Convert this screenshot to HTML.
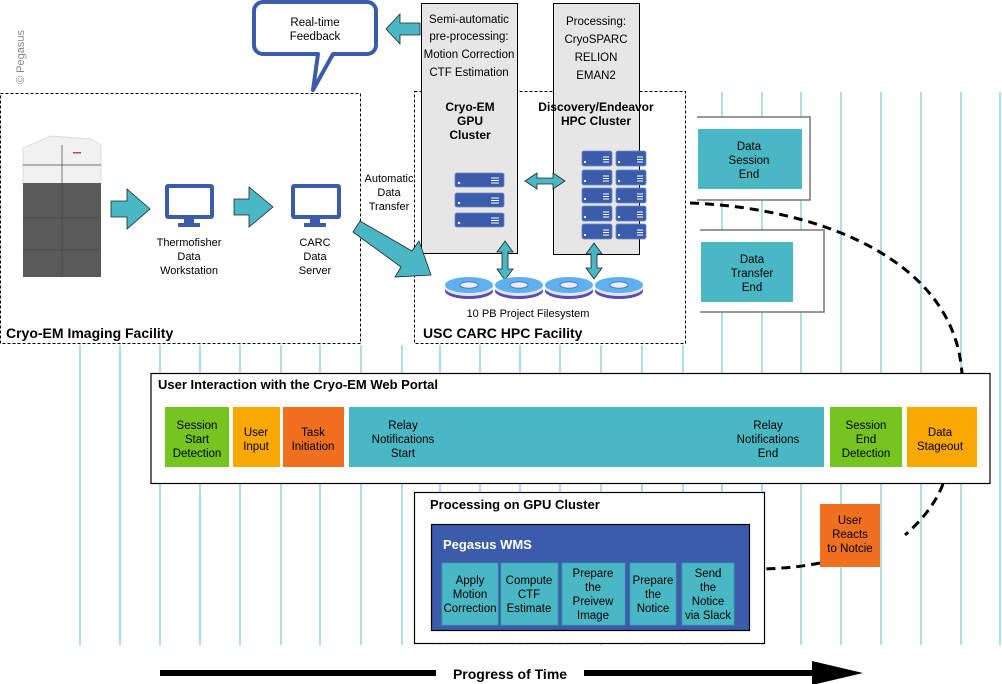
<!DOCTYPE html>
<html><head><meta charset="utf-8"><style>
html,body{margin:0;padding:0;background:#fff}
svg{display:block;font-family:"Liberation Sans",sans-serif}
</style></head><body>
<svg width="1002" height="684" viewBox="0 0 1002 684" xmlns="http://www.w3.org/2000/svg">
<defs>
<g id="srv"><rect x="0" y="0" width="49" height="14" rx="2" fill="#3a5cab" stroke="#6a86c4" stroke-width="0.8"/><circle cx="4" cy="10" r="1.2" fill="#fff"/><path d="M36 5h8M36 7.5h8M36 10h8" stroke="#fff" stroke-width="0.9"/></g>
<g id="srv2"><rect x="0" y="0" width="30" height="15" rx="2" fill="#3a5cab" stroke="#6a86c4" stroke-width="0.8"/><circle cx="3" cy="11" r="1.1" fill="#fff"/><path d="M21 6h6M21 8.5h6M21 11h6" stroke="#fff" stroke-width="0.9"/></g>
<g id="disk"><ellipse cx="0" cy="6" rx="24" ry="8" fill="#5b4bb8"/><ellipse cx="0" cy="3" rx="24" ry="8" fill="#dfe6f7"/><ellipse cx="0" cy="0" rx="24" ry="8" fill="#5fb0ee"/><ellipse cx="0" cy="0" rx="9" ry="3.3" fill="#e8eefa" stroke="#5b6ac0"/></g>
</defs>

<g stroke="#5bc0cc" stroke-width="1">
<path d="M80 345V645M120 345V645M160 345V645M200 345V645M240 345V645M281 345V645M320 345V645M361 345V645M402 345V645M440 345V645M480 345V645M520 345V645M560 345V645M601 345V645M642 345V645M683 345V645"/>
<path d="M722 92V645M762 92V645M801 92V645M841 92V645M881 92V645M921 92V645M961 92V645M1000 92V645"/>
</g>

<text transform="translate(24,84) rotate(-90)" font-size="11" fill="#888">© Pegasus</text>

<rect x="0.5" y="93.5" width="360" height="250" fill="#fff" stroke="#000" stroke-dasharray="3,2"/>
<rect x="414.5" y="91.5" width="271" height="252" fill="#fff" stroke="#000" stroke-dasharray="3,2"/>
<text x="6" y="338" font-size="14" font-weight="bold">Cryo-EM Imaging Facility</text>
<text x="423" y="338" font-size="14" font-weight="bold">USC CARC HPC Facility</text>

<path d="M263 2h104a9 9 0 0 1 9 9v34a9 9 0 0 1-9 9H333L313 90L318 54H263a9 9 0 0 1-9-9V11a9 9 0 0 1 9-9z" fill="#fff" stroke="#3a5cab" stroke-width="4" stroke-linejoin="round"/>
<text x="315" y="26" font-size="11.5" text-anchor="middle">Real-time</text>
<text x="315" y="40" font-size="11.5" text-anchor="middle">Feedback</text>
<path d="M420 23h-20v-9l-14 15 14 15v-9h20z" fill="#4ab8c4" stroke="#222" stroke-width="0.8"/>

<rect x="421.5" y="3.5" width="96" height="250" fill="#e6e6e6" stroke="#000"/>
<rect x="553.5" y="3.5" width="86" height="251" fill="#e6e6e6" stroke="#000"/>
<g font-size="11.5" text-anchor="middle">
<text x="469" y="23">Semi-automatic</text><text x="469" y="40">pre-processing:</text><text x="469" y="58">Motion Correction</text><text x="469" y="76">CTF Estimation</text>
<text x="596" y="25">Processing:</text><text x="596" y="43">CryoSPARC</text><text x="596" y="61">RELION</text><text x="596" y="79">EMAN2</text>
</g>
<g font-size="12" font-weight="bold" text-anchor="middle">
<text x="470" y="111">Cryo-EM</text><text x="470" y="125">GPU</text><text x="470" y="139">Cluster</text>
<text x="596" y="111">Discovery/Endeavor</text><text x="596" y="125">HPC Cluster</text>
</g>
<use href="#srv" x="455" y="173"/><use href="#srv" x="455" y="193"/><use href="#srv" x="455" y="213"/>
<g>
<use href="#srv2" x="582" y="151"/><use href="#srv2" x="616" y="151"/>
<use href="#srv2" x="582" y="170"/><use href="#srv2" x="616" y="170"/>
<use href="#srv2" x="582" y="188"/><use href="#srv2" x="616" y="188"/>
<use href="#srv2" x="582" y="206"/><use href="#srv2" x="616" y="206"/>
<use href="#srv2" x="582" y="224"/><use href="#srv2" x="616" y="224"/>
</g>
<path d="M525 181l12-8v5h16v-5l12 8-12 8v-5h-16v5z" fill="#4ab8c4" stroke="#222" stroke-width="0.8"/>
<path d="M505 241l8 11h-5v17h5l-8 11-8-11h5v-17h-5z" fill="#4ab8c4" stroke="#222" stroke-width="0.8"/>
<path d="M594 243l8 11h-5v14h5l-8 11-8-11h5v-14h-5z" fill="#4ab8c4" stroke="#222" stroke-width="0.8"/>
<use href="#disk" x="469" y="285"/><use href="#disk" x="519" y="285"/><use href="#disk" x="569" y="285"/><use href="#disk" x="619" y="285"/>
<text x="528" y="317" font-size="11" text-anchor="middle">10 PB Project Filesystem</text>

<path d="M23 148l28-12 40 3 10 6v40H23z" fill="#f1f1f1" stroke="#ddd"/>
<rect x="23" y="183" width="78" height="94" fill="#5a5a5a"/>
<path d="M62 145v132M23 165h78M23 218h78M23 250h78" stroke="#444" stroke-width="0.7"/>
<rect x="73" y="152" width="8" height="1.5" fill="#c44"/>

<path d="M111 201h16v-12l23 20-23 20v-12h-16z" fill="#4ab8c4" stroke="#222" stroke-width="0.8"/>
<path d="M234 199h15v-12l24 20-24 20v-12h-15z" fill="#4ab8c4" stroke="#222" stroke-width="0.8"/>
<g fill="none" stroke="#3a5cab" stroke-width="4"><rect x="167" y="186" width="45" height="31" rx="1"/><rect x="293" y="186" width="46" height="31" rx="1"/></g>
<g fill="#3a5cab"><rect x="184" y="218" width="10" height="5"/><rect x="178" y="223" width="22" height="4"/><rect x="310" y="218" width="10" height="5"/><rect x="304" y="223" width="22" height="4"/></g>
<g font-size="11" text-anchor="middle">
<text x="189" y="246">Thermofisher</text><text x="189" y="260">Data</text><text x="189" y="274">Workstation</text>
<text x="315" y="246">CARC</text><text x="315" y="260">Data</text><text x="315" y="274">Server</text>
<text x="389" y="182">Automatic</text><text x="389" y="196">Data</text><text x="389" y="210">Transfer</text>
</g>
<path d="M353 232l7-11 52 30 7-10 12 34-36 2 6-10z" fill="#4ab8c4" stroke="#222" stroke-width="0.8"/>

<path d="M697 117h113v83h-113" fill="#fff" stroke="#777" stroke-width="1.5"/>
<rect x="698" y="129" width="104" height="60" fill="#4ab8c4"/>
<path d="M700 230h124v82h-124" fill="#fff" stroke="#777" stroke-width="1.5"/>
<rect x="701" y="242" width="92" height="60" fill="#4ab8c4"/>
<g font-size="11.5" text-anchor="middle">
<text x="749" y="150">Data</text><text x="749" y="164">Session</text><text x="749" y="178">End</text>
<text x="752" y="263">Data</text><text x="752" y="277">Transfer</text><text x="752" y="291">End</text>
</g>

<path d="M690 203C820 208 955 260 962 374" fill="none" stroke="#000" stroke-width="3" stroke-dasharray="9,6"/>
<path d="M943 484C935 505 920 522 905 535" fill="none" stroke="#000" stroke-width="3" stroke-dasharray="9,6"/>
<path d="M820 563C800 567 785 568 765 569" fill="none" stroke="#000" stroke-width="3" stroke-dasharray="9,6"/>

<rect x="151" y="373.5" width="839" height="110" fill="#fff" stroke="#000" stroke-width="1.2"/>
<text x="158" y="389" font-size="13" font-weight="bold">User Interaction with the Cryo-EM Web Portal</text>
<rect x="165" y="407" width="64" height="60" fill="#76c41f"/>
<rect x="233" y="407" width="47" height="60" fill="#f9a800"/>
<rect x="283" y="407" width="61" height="60" fill="#f07020"/>
<rect x="349" y="407" width="475" height="60" fill="#4ab8c4"/>
<rect x="830" y="407" width="72" height="60" fill="#76c41f"/>
<rect x="907" y="407" width="70" height="60" fill="#f9a800"/>
<g font-size="11.5" text-anchor="middle">
<text x="197" y="429">Session</text><text x="197" y="443">Start</text><text x="197" y="457">Detection</text>
<text x="256" y="436">User</text><text x="256" y="450">Input</text>
<text x="313" y="436">Task</text><text x="313" y="450">Initiation</text>
<text x="403" y="429">Relay</text><text x="403" y="443">Notifications</text><text x="403" y="457">Start</text>
<text x="768" y="429">Relay</text><text x="768" y="443">Notifications</text><text x="768" y="457">End</text>
<text x="866" y="429">Session</text><text x="866" y="443">End</text><text x="866" y="457">Detection</text>
<text x="940" y="436">Data</text><text x="940" y="450">Stageout</text>
</g>

<rect x="414.5" y="492.5" width="350" height="151" fill="#fff" stroke="#000" stroke-width="1.2"/>
<text x="430" y="509" font-size="13" font-weight="bold">Processing on GPU Cluster</text>
<rect x="431.5" y="524.5" width="318" height="106" fill="#3a5cab" stroke="#000" stroke-width="1.2"/>
<text x="443" y="549" font-size="13" font-weight="bold" fill="#fff">Pegasus WMS</text>
<g fill="#4ab8c4" stroke="#3a9fb0" stroke-width="0.8">
<rect x="442" y="563" width="56" height="62"/><rect x="501" y="563" width="57" height="62"/><rect x="562" y="563" width="63" height="62"/><rect x="630" y="563" width="46" height="62"/><rect x="682" y="563" width="52" height="62"/>
</g>
<g font-size="11.5" text-anchor="middle">
<text x="470" y="584">Apply</text><text x="470" y="598">Motion</text><text x="470" y="612">Correction</text>
<text x="529" y="584">Compute</text><text x="529" y="598">CTF</text><text x="529" y="612">Estimate</text>
<text x="593" y="577">Prepare</text><text x="593" y="591">the</text><text x="593" y="605">Preivew</text><text x="593" y="619">Image</text>
<text x="653" y="584">Prepare</text><text x="653" y="598">the</text><text x="653" y="612">Notice</text>
<text x="708" y="577">Send</text><text x="708" y="591">the</text><text x="708" y="605">Notice</text><text x="708" y="619">via Slack</text>
</g>

<rect x="820" y="504" width="60" height="63" fill="#f07020"/>
<g font-size="11.5" text-anchor="middle"><text x="850" y="524">User</text><text x="850" y="538">Reacts</text><text x="850" y="552">to Notcie</text></g>

<rect x="160" y="670" width="276" height="6" fill="#000"/>
<rect x="584" y="670" width="230" height="6" fill="#000"/>
<path d="M812 661l51 12-51 12z" fill="#000"/>
<text x="510" y="679" font-size="14" font-weight="bold" text-anchor="middle">Progress of Time</text>
</svg>
</body></html>
